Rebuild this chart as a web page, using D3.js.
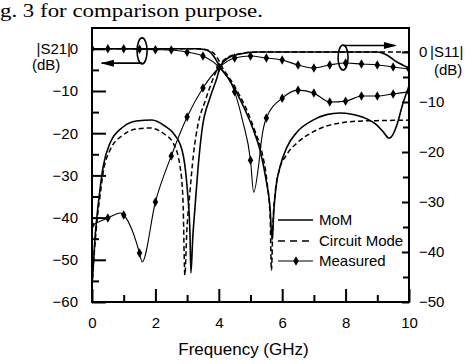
<!DOCTYPE html>
<html><head><meta charset="utf-8">
<script src="https://cdn.jsdelivr.net/npm/d3@7"></script>
<style>
body{margin:0;background:#fff}
svg{display:block}
text{font-family:"Liberation Sans",Arial,sans-serif;fill:#000}
</style>
</head><body>
<svg id="c" width="474" height="364"></svg>
<script>
// ---- data (GHz, dB) ----
const s21MomFreq = [0,1,2,3,3.3,3.5,3.7,3.85,4.04,4.3,4.57,4.83,5.08,5.3,5.49,5.62,5.68,5.74,5.8,5.93,6.15,6.47,6.97,7.4,7.82,8.2,8.55,8.99,9.2,9.37,9.5,9.62,9.81,10];
const s21MomDb   = [0,0,0,0,0,-0.1,-0.6,-1.9,-4.3,-7,-10.5,-14.5,-19,-24,-31,-38,-45.3,-38,-33,-28,-23.3,-19.7,-16.9,-15.6,-15.2,-15.5,-16.2,-18.1,-19.8,-21.2,-20.2,-18,-12.9,-8.8];

const s21CirFreq = [0,1,2,3,3.4,3.6,3.8,3.95,4.12,4.37,4.64,4.9,5.14,5.36,5.52,5.62,5.66,5.71,5.78,5.9,6.15,6.47,6.97,7.4,7.82,8.55,9.2,10];
const s21CirDb   = [0,0,0,0,0,-0.2,-0.8,-2.1,-4.5,-7.3,-10.8,-14.8,-19.5,-24.5,-31.5,-40,-52.5,-41,-34,-29,-25,-22.3,-19.7,-18.3,-17.6,-17.1,-17,-16.9];

const s11MomFreq = [0,0.04,0.09,0.17,0.25,0.35,0.57,0.98,1.4,1.89,2.3,2.56,2.84,3.0,3.09,3.12,3.18,3.25,3.34,3.47,3.72,3.94,4.04,4.29,4.67,5.2,9.0,9.3,9.62,10];
const s11MomDb   = [-47,-43,-37.6,-32,-27.6,-23,-18.2,-15,-13.8,-13.6,-14.8,-16.2,-19.6,-27,-36.2,-44.2,-37,-31,-23.6,-15.6,-9.2,-5.2,-3,-1.2,-0.4,0,0,-0.6,-2,-3.2];

const s11CirFreq = [0,0.04,0.1,0.17,0.25,0.35,0.57,0.98,1.4,1.83,2.3,2.56,2.78,2.87,2.93,2.99,3.09,3.2,3.34,3.56,3.78,3.97,4.3,4.7,5.2,10];
const s11CirDb   = [-47,-43,-38,-33,-29,-24.2,-19.6,-16.6,-15.4,-15.2,-16.5,-18.2,-23,-29.6,-44.6,-36,-28,-20.5,-14.6,-10,-6,-3.2,-1,-0.3,0,0];

const s21MeasFreq = [0,0.5,1,1.5,2,2.5,3,3.5,4,4.5,4.75,5,5.1,5.25,5.35,5.5,6,6.5,7,7.5,8,8.5,9,9.5,10];
const s21MeasDb   = [0,0,0,-0.1,-0.2,-0.3,-0.8,-1.7,-4.3,-10.2,-17,-26.4,-34,-28,-21.4,-16.4,-11.7,-9.8,-10.5,-12.6,-12.4,-11.2,-11.2,-10.7,-10.2];

const s11MeasFreq = [0,0.5,0.9,1,1.3,1.5,1.58,2,2.5,3,3.5,4,4.5,5,5.5,6,6.5,7,7.5,8,8.5,9,9.5,10];
const s11MeasDb   = [-34.6,-33.2,-32.2,-32.6,-36.2,-40.2,-42,-30,-20.8,-13,-7.2,-3.2,-1.2,-0.8,-1.2,-1.6,-2.6,-3.2,-2.6,-2.2,-2.4,-2.6,-3,-3.4];

const xTicksMajor = [0,2,4,6,8,10];
const xTicksMinor = [1,3,5,7,9];
const yLeftMajor = [0,-10,-20,-30,-40,-50,-60];
const yLeftMinor = [-5,-15,-25,-35,-45,-55];
const yRightMajor = [0,-10,-20,-30,-40,-50];
const yRightMinor = [-5,-15,-25,-35,-45];
const legendLabels = ["MoM","Circuit Mode","Measured"];
const titleText = "g. 3 for comparison purpose.";

// ---- layout ----
const L = 92, R = 409, T = 27.7, B = 302;
const svg = d3.select("#c");
svg.append("rect").attr("width",474).attr("height",364).attr("fill","#fff");

const x = d3.scaleLinear().domain([0,10]).range([L,R]);
const yL = d3.scaleLinear().domain([-60,5]).range([B,T]);
const yR = d3.scaleLinear().domain([-50,5]).range([B,27]);

svg.append("text").attr("x",0).attr("y",17)
  .style("font-family","'Liberation Serif','Times New Roman',serif")
  .style("font-size","19px").attr("textLength",263).attr("lengthAdjust","spacingAndGlyphs")
  .text(titleText);

svg.append("defs").append("clipPath").attr("id","clip")
  .append("rect").attr("x",L).attr("y",T).attr("width",R-L).attr("height",B-T);

const plot = svg.append("g").attr("clip-path","url(#clip)");

function draw(fr, db, ys, style){
  const pts = fr.map((f,i)=>[f,db[i]]);
  const line = d3.line().x(d=>x(d[0])).y(d=>ys(d[1])).curve(d3.curveMonotoneX);
  plot.append("path").datum(pts).attr("d",line)
    .attr("fill","none").attr("stroke","#000")
    .attr("stroke-width",style.w).attr("stroke-dasharray",style.dash||null);
  if(style.marker){
    plot.selectAll(null).data(pts.filter(d=>Math.abs(d[0]*2-Math.round(d[0]*2))<1e-6))
      .enter().append("path")
      .attr("d",d3.symbol().type(d3.symbolDiamond).size(26))
      .attr("transform",d=>`translate(${x(d[0])},${ys(d[1])})`)
      .attr("fill","#000");
  }
}
const sMoM = {w:1.6}, sCir = {w:1.5,dash:"5,3"}, sMeas = {w:1.1,marker:true};
draw(s11MomFreq,s11MomDb,yR,sMoM);
draw(s11CirFreq,s11CirDb,yR,sCir);
draw(s21MomFreq,s21MomDb,yL,sMoM);
draw(s21CirFreq,s21CirDb,yL,sCir);
draw(s11MeasFreq,s11MeasDb,yR,sMeas);
draw(s21MeasFreq,s21MeasDb,yL,sMeas);

// ---- axes ----
function styleAxis(g){
  g.select(".domain").remove();
  g.selectAll("line").attr("stroke","#000").attr("stroke-width",2);
  g.selectAll("text").style("font-size","15px").style("font-family","'Liberation Sans',Arial,sans-serif");
}
svg.append("g").attr("transform",`translate(${L},0)`)
  .call(d3.axisLeft(yL).tickValues(yLeftMajor).tickSize(-14).tickPadding(14).tickFormat(d3.format("d")))
  .call(styleAxis);
svg.append("g").attr("transform",`translate(${L},0)`)
  .call(d3.axisLeft(yL).tickValues(yLeftMinor).tickSize(-7).tickFormat(""))
  .call(styleAxis);
svg.append("g").attr("transform",`translate(${R},0)`)
  .call(d3.axisRight(yR).tickValues(yRightMajor).tickSize(-7).tickPadding(10).tickFormat(d3.format("d")))
  .call(styleAxis);
svg.append("g").attr("transform",`translate(${R},0)`)
  .call(d3.axisRight(yR).tickValues(yRightMinor).tickSize(-6).tickFormat(""))
  .call(styleAxis);
svg.append("g").attr("transform",`translate(0,${B})`)
  .call(d3.axisBottom(x).tickValues(xTicksMajor).tickSize(-13).tickPadding(15).tickFormat(d3.format("d")))
  .call(styleAxis);
svg.append("g").attr("transform",`translate(0,${B})`)
  .call(d3.axisBottom(x).tickValues(xTicksMinor).tickSize(-7).tickFormat(""))
  .call(styleAxis);

svg.append("rect").attr("x",L).attr("y",28).attr("width",R-L).attr("height",B-28)
  .attr("fill","none").attr("stroke","#000").attr("stroke-width",2);

// axis titles
svg.append("text").attr("x",243.5).attr("y",355).attr("text-anchor","middle")
  .style("font-size","17px").text("Frequency (GHz)");
svg.append("text").attr("x",71).attr("y",54).attr("text-anchor","end")
  .style("font-size","15px").text("|S21|");
svg.append("text").attr("x",32).attr("y",70)
  .style("font-size","15px").text("(dB)");
svg.append("text").attr("x",430).attr("y",57)
  .style("font-size","15px").text("|S11|");
svg.append("text").attr("x",434).attr("y",75)
  .style("font-size","15px").text("(dB)");

// ellipses + arrows
function arrowHead(tipX, y, dir){
  const len = 13, hw = 3.5;
  svg.append("path")
    .attr("d",`M${tipX},${y} L${tipX-dir*len},${y-hw} L${tipX-dir*len},${y+hw} Z`)
    .attr("fill","#000");
}
// left (S21 -> left axis)
svg.append("ellipse").attr("cx",x(1.58)).attr("cy",yL(-0.5)).attr("rx",5).attr("ry",13)
  .attr("fill","none").attr("stroke","#000").attr("stroke-width",1.6);
svg.append("line").attr("x1",x(1.58)).attr("x2",x(0.3)).attr("y1",yL(-3.4)).attr("y2",yL(-3.4))
  .attr("stroke","#000").attr("stroke-width",1.6);
arrowHead(x(0.28), yL(-3.4), -1);
// right (S11 -> right axis)
svg.append("ellipse").attr("cx",x(7.92)).attr("cy",yR(-1.1)).attr("rx",5).attr("ry",12.5)
  .attr("fill","none").attr("stroke","#000").attr("stroke-width",1.6);
svg.append("line").attr("x1",x(7.92)).attr("x2",x(9.55)).attr("y1",yR(1.3)).attr("y2",yR(1.3))
  .attr("stroke","#000").attr("stroke-width",1.6);
arrowHead(x(9.62), yR(1.3), 1);

// legend
const lg = svg.append("g");
const legY = [220,241,261];
const legStyles = [sMoM,sCir,sMeas];
legendLabels.forEach((lab,i)=>{
  lg.append("line").attr("x1",278).attr("x2",313).attr("y1",legY[i]).attr("y2",legY[i])
    .attr("stroke","#000").attr("stroke-width",legStyles[i].w)
    .attr("stroke-dasharray",i===1?"7,5":null);
  if(legStyles[i].marker){
    lg.append("path").attr("d",d3.symbol().type(d3.symbolDiamond).size(26)())
      .attr("transform",`translate(296,${legY[i]})`).attr("fill","#000");
  }
  lg.append("text").attr("x",319).attr("y",legY[i]).attr("dy","0.36em")
    .style("font-size","15px").text(lab);
});
</script>
</body></html>
